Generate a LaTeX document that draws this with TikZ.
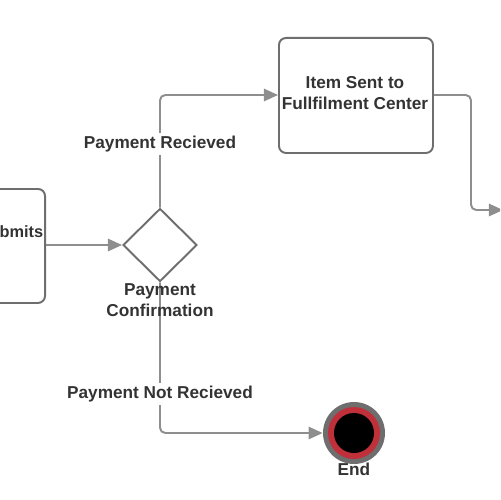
\documentclass[tikz,border=0pt]{standalone}
\usepackage{fontspec}
\setmainfont{Liberation Sans}
\usetikzlibrary{shapes.geometric,arrows.meta}
\definecolor{txt}{HTML}{333333}
\definecolor{bord}{HTML}{6E6E6E}
\definecolor{conn}{HTML}{8E8E8E}
\definecolor{endred}{HTML}{C0303A}
\begin{document}
\begin{tikzpicture}[x=0.02cm,y=-0.02cm,
  lbl/.style={font=\fontsize{9.8}{11.9}\selectfont\bfseries, text=txt, align=center},
  boxst/.style={draw=bord, line width=1.1pt, rounded corners=4pt, fill=white},
  conn/.style={draw=conn, line width=1.1pt, rounded corners=3pt, -{Triangle[length=8pt,width=7pt]}},
  lblbg/.style={lbl, fill=white, inner sep=1.5pt}]
\useasboundingbox (0,0) rectangle (500,500);
\clip (0,0) rectangle (500,500);
% left box (partly outside)
\node[boxst, minimum width=106*0.02cm, minimum height=114*0.02cm, anchor=north east] (sub) at (46,188) {};
\node[lbl, anchor=east, inner sep=0pt, font=\fontsize{9.3}{11}\selectfont\bfseries] (subt) at (43.5,232) {bmits};
% diamond
\node[draw=bord, line width=1.1pt, diamond, minimum width=74*0.02cm, minimum height=73*0.02cm, inner sep=0pt, fill=white] (dia) at (160,245) {};
% item sent box
\node[boxst, minimum width=154*0.02cm, minimum height=115*0.02cm, anchor=north west] (item) at (278,37) {};
\node[lbl, anchor=north] (itemt) at (355,70) {Item Sent to\\Fullfilment Center};
% end
\node[circle, fill=bord, minimum size=62*0.02cm, inner sep=0pt] (end) at (354,433) {};
\node[circle, fill=endred, minimum size=52*0.02cm, inner sep=0pt] (endr) at (end) {};
\node[circle, fill=black, minimum size=40*0.02cm, inner sep=0pt] (endb) at (end) {};
\node[lbl] (endt) at (354,469) {End};
% connectors
\coordinate (out) at (503,210);
\draw[conn] (sub.east |- dia) -- (dia.west);
\draw[conn] (dia.north) |- (item.west |- 0,95);
\draw[conn] (dia.south) |- (end.west);
\draw[conn] (item.east |- 0,95) -- (471,95) |- (out);
% edge labels
\node[lblbg] (pr) at (160,144) {Payment Recieved};
\node[lblbg] (pnr) at (160,394) {Payment Not Recieved};
\node[lbl] (diat) at (160,300) {Payment\\Confirmation};
\end{tikzpicture}
\end{document}
